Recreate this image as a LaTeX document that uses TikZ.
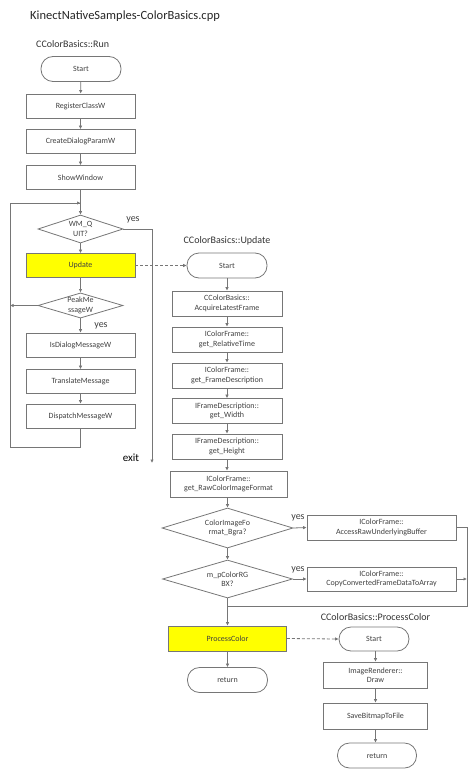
\documentclass[tikz,border=0pt]{standalone}
\usepackage{fontspec}
\setmainfont{Carlito}
\usetikzlibrary{shapes.geometric,arrows.meta}
\definecolor{linegray}{HTML}{767676}
\definecolor{txtgray}{HTML}{404040}
\definecolor{hiyellow}{HTML}{FFFF00}
\begin{document}
\begin{tikzpicture}[x=1pt,y=-1pt,
  every node/.style={font=\fontsize{8}{9.5}\selectfont, text=txtgray, align=center, inner sep=1pt},
  proc/.style={draw=linegray, line width=0.8pt, rectangle, minimum width=109pt, minimum height=24pt},
  hiproc/.style={proc, fill=hiyellow, draw=linegray},
  term/.style={draw=linegray, line width=0.8pt, rectangle, rounded corners=12pt, minimum width=80pt, minimum height=25pt},
  dec/.style={draw=linegray, line width=0.8pt, diamond, aspect=3, inner sep=0pt},
  lbl/.style={font=\fontsize{10}{12}\selectfont, text=black!80},
  flow/.style={draw=linegray, line width=0.8pt, -{Latex[length=3.5pt,width=3.5pt]}},
  plain/.style={draw=linegray, line width=0.8pt},
  dashflow/.style={flow, densely dashed}
]
\useasboundingbox (0,0) rectangle (474,770);
% titles
\node[font=\fontsize{12.5}{14}\selectfont, text=black!85, anchor=west, inner sep=0pt] (title) at (30,16) {KinectNativeSamples-ColorBasics.cpp};
\node[lbl, anchor=west, inner sep=0pt] (runlbl) at (36,44) {CColorBasics::Run};
\node[lbl] (updlbl) at (227,241) {CColorBasics::Update};
\node[lbl] (pclbl) at (375.5,617) {CColorBasics::ProcessColor};

% Run column
\node[term] (start1) at (81,69) {Start};
\node[proc] (reg) at (80.5,106) {RegisterClassW};
\node[proc] (create) at (80.5,141.5) {CreateDialogParamW};
\node[proc] (show) at (80.5,177.5) {ShowWindow};
\node[dec, minimum width=85pt, minimum height=28pt] (quit) at (80.5,229) {WM\_Q\\UIT?};
\node[hiproc] (update) at (80.5,265.5) {Update};
\node[dec, minimum width=85pt, minimum height=25pt] (peak) at (80.5,305.5) {PeakMe\\ssageW};
\node[proc] (isdlg) at (80.5,345) {IsDialogMessageW};
\node[proc] (trans) at (80.5,381.5) {TranslateMessage};
\node[proc] (disp) at (80.5,416) {DispatchMessageW};

\coordinate (loopA) at (80.5,447);
\coordinate (loopB) at (10,447);
\coordinate (loopC) at (10,203);
\coordinate (loopD) at (80.5,203);
\coordinate (peakL) at (10,305.5);
\coordinate (quitR) at (152,229);
\coordinate (exitP) at (152,463);

\draw[flow] (start1) -- (reg);
\draw[flow] (reg) -- (create);
\draw[flow] (create) -- (show);
\draw[flow] (show) -- (quit);
\draw[flow] (quit) -- (update);
\draw[flow] (update) -- (peak);
\draw[flow] (peak) -- (isdlg);
\draw[flow] (isdlg) -- (trans);
\draw[flow] (trans) -- (disp);
\draw[plain] (disp.south) -- (loopA) -- (loopB) -- (loopC) -- (loopD);
\draw[flow] (loopC) -- (loopD);
\draw[flow] (peak.west) -- (peakL);
\draw[flow] (quit.east) -- (quitR) -- (exitP);
\node[lbl, text=txtgray] (yes1) at (133,220) {yes};
\node[lbl, text=txtgray] (yes2) at (101,325.5) {yes};
\node[font=\fontsize{11}{13}\selectfont, text=black] (exitlbl) at (131,458) {exit};

% Update column
\node[term] (start2) at (227,265.5) {Start};
\node[proc, minimum width=110pt, minimum height=25pt] (acq) at (227,303.5) {CColorBasics::\\AcquireLatestFrame};
\node[proc, minimum width=110pt, minimum height=25pt] (rel) at (227,339.5) {IColorFrame::\\get\_RelativeTime};
\node[proc, minimum width=110pt, minimum height=25pt] (desc) at (227,375.5) {IColorFrame::\\get\_FrameDescription};
\node[proc, minimum width=110pt, minimum height=25pt] (wid) at (227,411) {IFrameDescription::\\get\_Width};
\node[proc, minimum width=110pt, minimum height=25pt] (hei) at (227,446.5) {IFrameDescription::\\get\_Height};
\node[proc, minimum width=117pt, minimum height=26pt] (raw) at (228.5,484) {IColorFrame::\\get\_RawColorImageFormat};
\node[dec, minimum width=131pt, minimum height=40pt] (bgra) at (227.5,528) {ColorImageFo\\rmat\_Bgra?};
\node[dec, minimum width=130pt, minimum height=38pt] (rgbx) at (227.5,579) {m\_pColorRG\\BX?};
\node[proc, minimum width=149pt, minimum height=25pt] (access) at (381.5,527.5) {IColorFrame::\\AccessRawUnderlyingBuffer};
\node[proc, minimum width=149pt, minimum height=24pt] (copy) at (381.5,579) {IColorFrame::\\CopyConvertedFrameDataToArray};
\node[hiproc, minimum width=118pt, minimum height=25pt] (pc) at (227.5,638.5) {ProcessColor};
\node[term] (ret1) at (227.5,680) {return};

\coordinate (accR) at (467,527.5);
\coordinate (joinR) at (467,606);
\coordinate (joinL) at (227.5,606);
\coordinate (copyR) at (467,579);

\draw[dashflow] (update.east) -- (start2.west);
\draw[flow] (start2) -- (acq);
\draw[flow] (acq) -- (rel);
\draw[flow] (rel) -- (desc);
\draw[flow] (desc) -- (wid);
\draw[flow] (wid) -- (hei);
\draw[flow] (hei.south) -- (hei.south |- raw.north);
\draw[flow] (raw.south -| bgra.north) -- (bgra.north);
\draw[flow] (bgra) -- (rgbx);
\draw[flow] (bgra.east) -- (access.west);
\draw[flow] (rgbx.east) -- (copy.west);
\draw[plain] (access.east) -- (accR) -- (joinR) -- (joinL);
\draw[flow] (copy.east) -- (copyR);
\draw[flow] (rgbx.south) -- (pc.north);
\draw[flow] (pc) -- (ret1);
\node[lbl, text=txtgray] (yes3) at (298,518) {yes};
\node[lbl, text=txtgray] (yes4) at (298,570) {yes};

% ProcessColor column
\node[term, minimum width=70pt, minimum height=24pt] (start3) at (374,639) {Start};
\node[proc, minimum width=104pt, minimum height=26pt] (draw) at (375.5,675) {ImageRenderer::\\Draw};
\node[proc, minimum width=104pt, minimum height=26pt] (save) at (375.5,716) {SaveBitmapToFile};
\node[term, minimum width=79pt, minimum height=25pt] (ret2) at (377,755.5) {return};

\draw[dashflow] (pc.east) -- (start3.west);
\draw[flow] (start3.south -| draw.north) -- (draw.north);
\draw[flow] (draw) -- (save);
\draw[flow] (save.south) -- (save.south |- ret2.north);
\end{tikzpicture}
\end{document}
